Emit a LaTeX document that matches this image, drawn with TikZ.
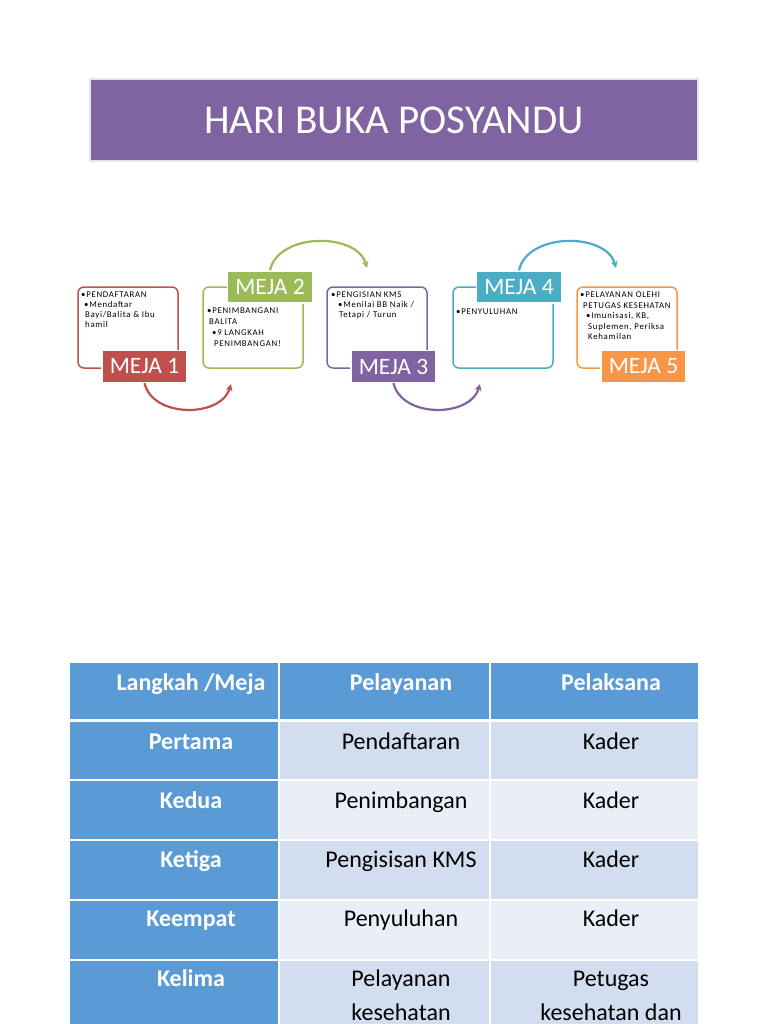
\documentclass[tikz,border=0pt]{standalone}
\usepackage{fontspec}
\setmainfont{Carlito}
\newfontfamily\notefont[LetterSpace=8]{Carlito}
\usetikzlibrary{arrows.meta}

\definecolor{titlepurple}{HTML}{8064A2}
\definecolor{mejared}{HTML}{C0504D}
\definecolor{mejagreen}{HTML}{9BBB59}
\definecolor{mejapurple}{HTML}{8064A2}
\definecolor{mejateal}{HTML}{4BACC6}
\definecolor{mejaorange}{HTML}{F79646}
\definecolor{tblblue}{HTML}{5B9BD5}
\definecolor{tbldark}{HTML}{D2DEEF}
\definecolor{tbllight}{HTML}{EAEFF7}

\newcommand{\twolines}[2]{\begin{tabular}[t]{@{}c@{}}#1\\#2\end{tabular}}

\begin{document}
\begin{tikzpicture}[x=1pt, y=-1pt, >={Stealth[length=7pt,width=7pt]},
    mejabox/.style={draw=#1, line width=1.5pt, rounded corners=6pt,
        minimum width=100pt, minimum height=81pt, inner sep=0pt},
    mejalabel/.style={fill=#1, draw=white, line width=1.2pt, text=white,
        minimum width=85pt, minimum height=32pt, inner sep=0pt,
        font=\fontsize{23.5}{28}\selectfont},
    notes/.style={anchor=north west, align=left, inner sep=0pt,
        font=\notefont\fontsize{8.8}{10}\selectfont},
    flow/.style={->, line width=2.2pt, draw=#1},
    hdrtext/.style={anchor=base, text=white, font=\fontsize{24}{34}\selectfont\bfseries},
    celltext/.style={anchor=base, font=\fontsize{24}{34}\selectfont}]

\useasboundingbox (0,0) rectangle (768,1024);

% --- TITLE BAR ---
\node[fill=titlepurple, draw=gray!20, line width=2pt, text=white,
      minimum width=608pt, minimum height=82pt, inner sep=0pt,
      font=\fontsize{41}{49}\selectfont] (title) at (394,120) {HARI BUKA POSYANDU};

% --- MEJA 1 ---
\node[mejabox=mejared] (b1) at (128,327.5) {};
\node[notes] (t1) at (81,292)
    {\textbullet PENDAFTARAN\\
     \hspace*{3pt}\textbullet Mendaftar\\
     \hspace*{4pt}Bayi/Balita \& Ibu\\
     \hspace*{4pt}hamil};
\node[mejalabel=mejared] (m1) at (144.5,366.5) {MEJA 1};

% --- MEJA 2 ---
\node[mejabox=mejagreen] (b2) at (253,327.5) {};
\node[notes, font=\notefont\fontsize{8.8}{11}\selectfont] (t2) at (207,308)
    {\textbullet PENIMBANGANI\\
     \hspace*{2pt}BALITA\\
     \hspace*{5pt}\textbullet 9 LANGKAH\\
     \hspace*{7pt}PENIMBANGAN!};
\node[mejalabel=mejagreen] (m2) at (270,287) {MEJA 2};

% --- MEJA 3 ---
\node[mejabox=mejapurple] (b3) at (377,327.5) {};
\node[notes] (t3) at (331,292)
    {\textbullet PENGISIAN KMS\\
     \hspace*{7pt}\textbullet Menilai BB Naik /\\
     \hspace*{8pt}Tetapi / Turun};
\node[mejalabel=mejapurple] (m3) at (393.5,366.5) {MEJA 3};

% --- MEJA 4 ---
\node[mejabox=mejateal] (b4) at (503,327.5) {};
\node[notes] (t4) at (456,309) {\textbullet PENYULUHAN};
\node[mejalabel=mejateal] (m4) at (519,287) {MEJA 4};

% --- MEJA 5 ---
\node[mejabox=mejaorange] (b5) at (627,327.5) {};
\node[notes, font=\notefont\fontsize{8.8}{10.5}\selectfont] (t5) at (580,292)
    {\textbullet PELAYANAN OLEHI\\
     \hspace*{3pt}PETUGAS KESEHATAN\\
     \hspace*{6pt}\textbullet Imunisasi, KB,\\
     \hspace*{8pt}Suplemen, Periksa\\
     \hspace*{8pt}Kehamilan};
\node[mejalabel=mejaorange] (m5) at (643.5,366.5) {MEJA 5};

% --- FLOW ARROWS ---
\coordinate (e1) at (231,384);
\coordinate (e2) at (367,268);
\coordinate (e3) at (480,384);
\coordinate (e4) at (616,268);
\draw[flow=mejared] (m1.south) .. controls +(8,35) and +(-10,34) .. (e1);
\draw[flow=mejagreen] (m2.north) .. controls +(8,-38) and +(-10,-36) .. (e2);
\draw[flow=mejapurple] (m3.south) .. controls +(8,35) and +(-10,34) .. (e3);
\draw[flow=mejateal] (m4.north) .. controls +(8,-38) and +(-10,-36) .. (e4);

% --- TABLE ---
\fill[tblblue] (70,663) rectangle (698,720);
\fill[tblblue] (70,720) rectangle (279,1030);
\fill[tbldark] (279,720) rectangle (698,780);
\fill[tbllight] (279,780) rectangle (698,840);
\fill[tbldark] (279,840) rectangle (698,900);
\fill[tbllight] (279,900) rectangle (698,960);
\fill[tbldark] (279,960) rectangle (698,1030);
\draw[white, line width=3pt] (70,720) -- (698,720);
\draw[white, line width=1.5pt] (70,780) -- (698,780) (70,840) -- (698,840)
    (70,900) -- (698,900) (70,960) -- (698,960);
\draw[white, line width=1.5pt] (279,663) -- (279,1030) (490,663) -- (490,1030);

\node[hdrtext] (h1) at (191,690) {Langkah /Meja};
\node[hdrtext] (h2) at (401,690) {Pelayanan};
\node[hdrtext] (h3) at (611,690) {Pelaksana};

\node[hdrtext] (r1) at (191,749) {Pertama};
\node[celltext] (p1) at (401,749) {Pendaftaran};
\node[celltext] (k1) at (611,749) {Kader};

\node[hdrtext] (r2) at (191,808) {Kedua};
\node[celltext] (p2) at (401,808) {Penimbangan};
\node[celltext] (k2) at (611,808) {Kader};

\node[hdrtext] (r3) at (191,867) {Ketiga};
\node[celltext] (p3) at (401,867) {Pengisisan KMS};
\node[celltext] (k3) at (611,867) {Kader};

\node[hdrtext] (r4) at (191,926) {Keempat};
\node[celltext] (p4) at (401,926) {Penyuluhan};
\node[celltext] (k4) at (611,926) {Kader};

\node[hdrtext] (r5) at (191,986) {Kelima};
\node[celltext] (p5) at (401,986) {\twolines{Pelayanan}{kesehatan}};
\node[celltext] (k5) at (611,986) {\twolines{Petugas}{kesehatan dan}};

\end{tikzpicture}
\end{document}
